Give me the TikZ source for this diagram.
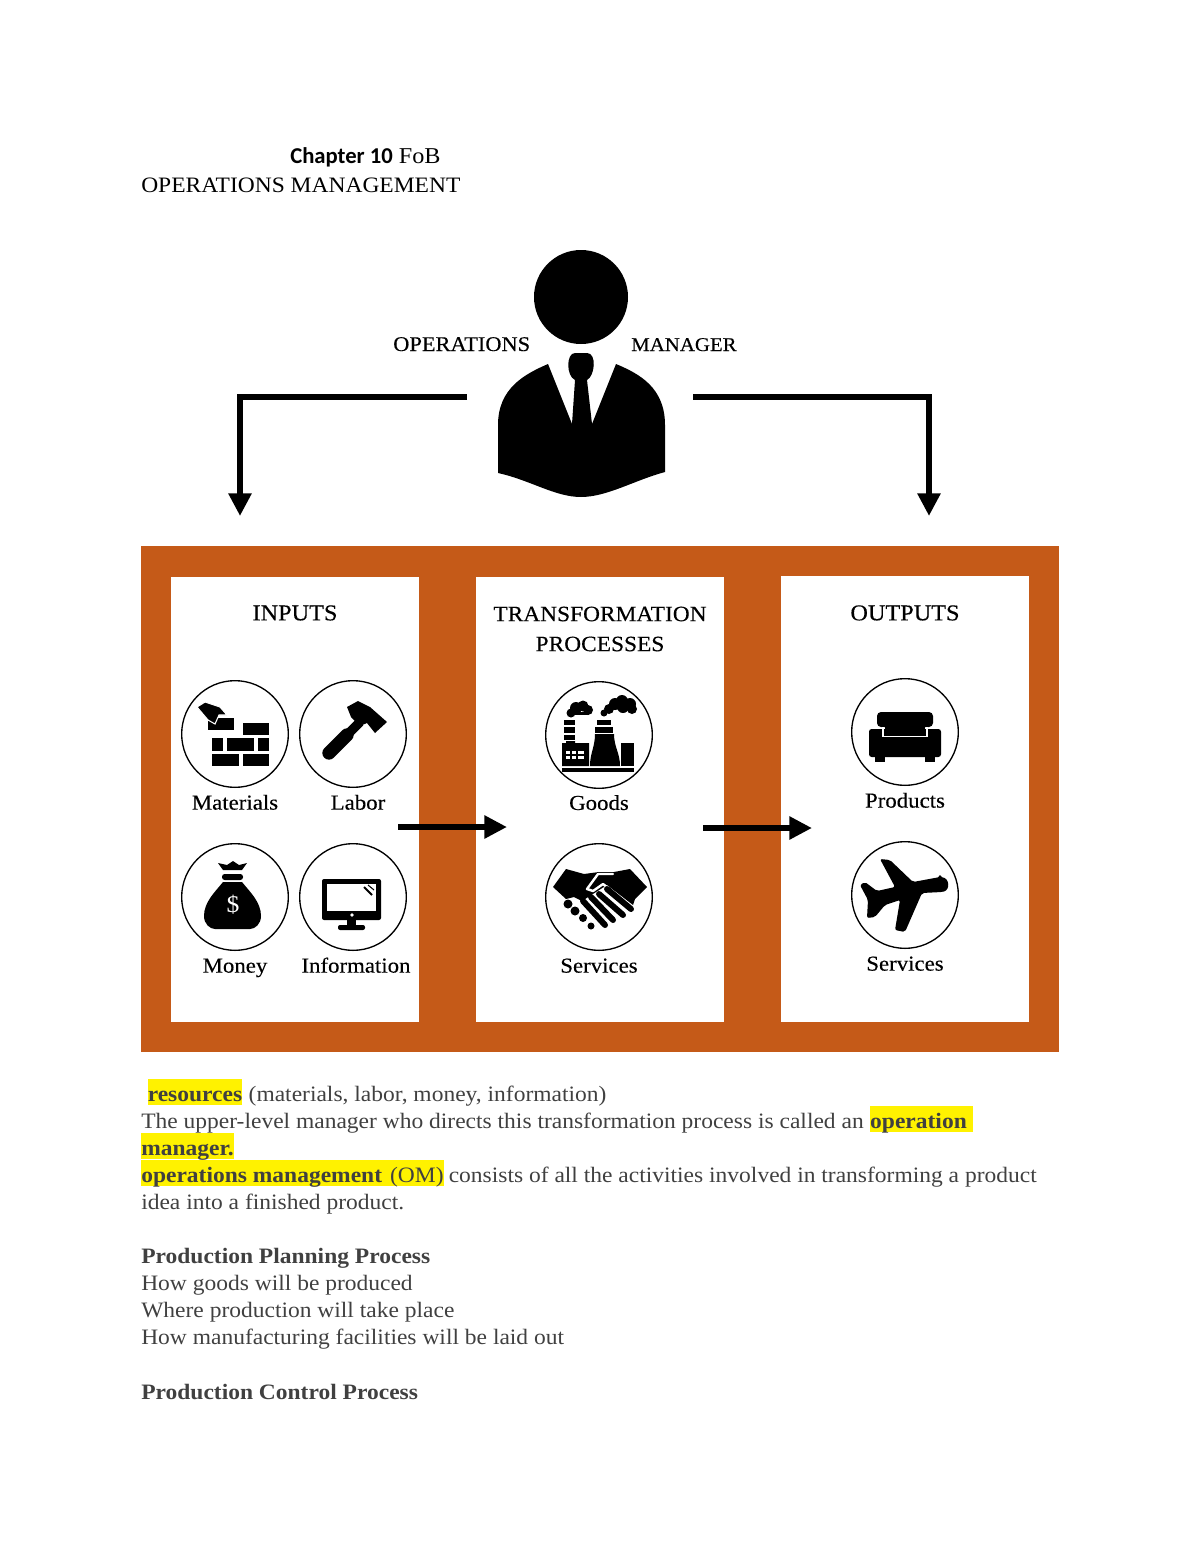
\documentclass[tikz,border=0pt]{standalone}
\usepackage{fontspec}
\setmainfont[FakeStretch=1.068]{Liberation Serif}
\newfontfamily\labelfont[FakeStretch=1.07,FakeBold=0.25]{Liberation Serif}
\newfontfamily\headfont{Carlito}
\usetikzlibrary{positioning}
\usetikzlibrary{arrows.meta}
\definecolor{rust}{HTML}{C55A18}
\definecolor{bodygray}{HTML}{404040}
\tikzset{>={Triangle[length=17pt,width=16.5pt]}}
\tikzset{flow/.style={->,line width=5pt}}
\tikzset{panel/.style={fill=white,draw=none}}
\tikzset{ring/.style={circle,draw,line width=1pt,minimum size=80pt,inner sep=0pt}}
\tikzset{lab/.style={font=\labelfont\fontsize{16pt}{16pt}\selectfont,inner sep=0pt,text height=11pt,text depth=3pt}}
\tikzset{pnltitle/.style={font=\labelfont\fontsize{17pt}{17pt}\selectfont}}
\tikzset{txt/.style={anchor=base west,inner sep=0pt,text=bodygray,font=\fontsize{16.5pt}{16.5pt}\selectfont}}
\tikzset{bld/.style={font=\bfseries\fontsize{16.5pt}{16.5pt}\selectfont}}
\tikzset{hl/.style={fill=yellow,text height=16.8pt,text depth=3.2pt,inner xsep=0pt}}
\begin{document}
\begin{tikzpicture}[x=0.75pt,y=-0.75pt]
\useasboundingbox (0,0) rectangle (1200,1553);

% heading
\node[anchor=base west,inner sep=0pt,font=\fontsize{17pt}{17pt}\selectfont] (chap) at (290,163) {{\headfont\bfseries Chapter 10} FoB};
\node[anchor=base west,inner sep=0pt,font=\fontsize{16.5pt}{16.5pt}\selectfont] (opm) at (141,192) {OPERATIONS MANAGEMENT};

% manager
\node[circle,fill=black,minimum size=70.5pt,inner sep=0pt] (head) at (581,297) {};
\fill (548,364) .. controls (525,374) and (498,388) .. (498,425) -- (498,473)
  .. controls (530,480) and (555,497) .. (581,497)
  .. controls (607,497) and (635,480) .. (665,472) -- (665,425)
  .. controls (665,388) and (640,374) .. (616,364) -- (592,424) -- (587,380)
  .. controls (595,376) and (597,353) .. (587,353) -- (575,353)
  .. controls (566,353) and (566,376) .. (575,380) -- (572,424) -- cycle;
\node[lab,anchor=base west,font=\labelfont\fontsize{15.7pt}{15.7pt}\selectfont] (opl) at (393,351) {OPERATIONS};
\node[lab,anchor=base west,font=\labelfont\fontsize{14.6pt}{15pt}\selectfont] (mgl) at (631,351) {MANAGER};

% frame
\fill[rust] (141,546) rectangle (1059,1052);
\fill[panel] (171,577) rectangle (419,1022);
\fill[panel] (476,577) rectangle (724,1022);
\fill[panel] (781,576) rectangle (1029,1022);

\node[lab,pnltitle] (inp) at (295,615) {INPUTS};
\node[align=center,inner sep=0pt,font=\labelfont\fontsize{16.4pt}{22.5pt}\selectfont] (trn) at (600,629) {TRANSFORMATION\\PROCESSES};
\node[lab,pnltitle] (out) at (905,615) {OUTPUTS};

\node[ring] (mat) at (235,734) {};
\node[ring] (hmr) at (353,734) {};
\node[ring] (mon) at (235,897) {};
\node[ring] (inf) at (353,897) {};
\node[ring] (gds) at (599,735) {};
\node[ring] (hnd) at (599,897) {};
\node[ring] (prd) at (905,732) {};
\node[ring] (pln) at (905,895) {};

\node[lab] (matl) [below = 5pt of mat] {Materials};
\node[lab] (hmrl) [below = 5pt of hmr, xshift=3.75pt] {Labor};
\node[lab] (monl) [below = 5pt of mon] {Money};
\node[lab] (infl) [below = 5pt of inf, xshift=2.25pt] {Information};
\node[lab] (gdsl) [below = 4.5pt of gds] {Goods};
\node[lab] (hndl) [below = 5pt of hnd] {Services};
\node[lab] (prdl) [below = 5pt of prd] {Products};
\node[lab] (plnl) [below = 5pt of pln] {Services};

% bricks
\begin{scope}[shift={(mat.center)}]
\fill (8,-11) rectangle (34,1);
\fill (-27,-16) rectangle (-1,-4);
\fill (-23,4) rectangle (-12,17);
\fill (-8,4) rectangle (19,17);
\fill (23,4) rectangle (34,17);
\fill (-23,20) rectangle (4,32);
\fill (8,20) rectangle (34,32);
\fill[draw=white,line width=0.8pt] (-38,-27) -- (-30,-32) -- (-15,-27) -- (-8,-19) -- (-16,-19) -- (-20,-10) -- (-27,-14) -- cycle;
\end{scope}

% hammer
\begin{scope}[shift={(hmr.center)}]
\draw[line width=10pt,line cap=round] (-24,19) -- (-6,1);
\draw[line width=7pt] (-4,-1) -- (7,-12);
\fill (-6,-27) -- (5,-33) -- (17,-27) -- (34,-12) -- (22,-1) -- (14,-11) -- (7,-8) -- (-2,-17) -- cycle;
\end{scope}

% money bag
\begin{scope}[shift={(mon.center)}]
\fill (-17,-34) -- (-8,-32) -- (-2,-36) -- (4,-32) -- (12,-34) -- (7,-27) -- (-12,-27) -- cycle;
\fill[rounded corners=2pt] (-13,-23) rectangle (8,-17);
\fill (-12,-15) -- (7,-15) .. controls (15,-5) and (26,5) .. (26,19)
  .. controls (26,27) and (20,32) .. (15,32) -- (-20,32)
  .. controls (-25,32) and (-31,27) .. (-31,19)
  .. controls (-31,5) and (-20,-5) .. (-12,-15) -- cycle;
\node[text=white,inner sep=0pt,font=\fontsize{18pt}{18pt}\selectfont] (dlr) at (-2,8) {\$};
\end{scope}

% monitor
\begin{scope}[shift={(inf.center)}]
\fill[rounded corners=1.5pt] (-31,-18) rectangle (28,23);
\fill[white] (-26,-13) rectangle (23,14);
\fill[white] (-1,18) circle (1.8);
\fill (-6,22) rectangle (3,28);
\fill[rounded corners=1.5pt] (-15,28) rectangle (12,33);
\draw[line width=1.5pt] (11,-10) -- (19,-2);
\draw[line width=0.8pt] (15,-12) -- (21,-7);
\end{scope}

% factory
\begin{scope}[shift={(gds.center)}]
\fill (-37,33) rectangle (35,37);
\fill (-37,8) -- (-33,8) -- (-33,6) -- (-24,6) -- (-24,8) -- (-10,8) -- (-10,31) -- (-37,31) -- cycle;
\fill (-35,-15) rectangle (-24,-10);
\fill (-35,-8) rectangle (-24,-2);
\fill (-35,0) rectangle (-24,5);
\fill (-2,-15) rectangle (12,-10);
\fill (-4,-8) rectangle (14,-2);
\fill (-4,-1) .. controls (-4,12) and (-9,18) .. (-9,31) -- (21,31) .. controls (21,18) and (15,12) .. (15,-1) -- cycle;
\fill (22,8) rectangle (35,31);
\fill (-28,-22) circle (4.5); \fill (-23,-27) circle (6); \fill (-16,-29) circle (5.5); \fill (-11,-25) circle (5);
\fill (-30,-23) rectangle (-10,-20);
\fill (5,-22) circle (3.5); \fill (10,-26) circle (5); \fill (16,-31) circle (6); \fill (23,-34) circle (6); \fill (31,-31) circle (6); \fill (33,-26) circle (5); \fill (24,-28) circle (6);
\fill[white] (-33,16) rectangle (-29,19);
\fill[white] (-27,16) rectangle (-23,19);
\fill[white] (-21,16) rectangle (-15,19);
\fill[white] (-33,21) rectangle (-29,24);
\fill[white] (-27,21) rectangle (-23,24);
\fill[white] (-21,21) rectangle (-15,24);
\end{scope}

% handshake
\begin{scope}[shift={(hnd.center)}]
\fill (-46,-10) -- (-33,-28) -- (-15,-23) -- (0,-25) -- (15,-25) -- (31,-28) -- (48,-10) -- (36,2) -- (34,8) -- (8,-12) -- (-17,4) -- (-25,0) -- (-33,2) -- cycle;
\draw[white,line width=1.8pt,line cap=round,line join=round] (14,-23) -- (-1,-23) -- (-12,-8) -- (-6,-6) -- (4,-13) -- (36,12);
\draw[line width=4.5pt,line cap=round] (-16,4) -- (6,28);
\draw[line width=4.5pt,line cap=round] (-8,0) -- (14,23);
\draw[line width=4.5pt,line cap=round] (0,-3) -- (24,18);
\draw[line width=4.5pt,line cap=round] (8,-8) -- (32,12);
\fill (-31,7) circle (4.5);
\fill (-24,14) circle (4.5);
\fill (-16,21) circle (4);
\fill (-8,29) circle (3.5);
\end{scope}

% sofa
\begin{scope}[shift={(prd.center)}]
\fill[rounded corners=3pt] (-28,-20) rectangle (28,-5);
\fill (-20,-6) rectangle (20,3);
\fill[rounded corners=2pt] (-36,-3) rectangle (36,25);
\fill (-30,25) rectangle (-20,30);
\fill (20,25) rectangle (30,30);
\draw[white,line width=1pt] (-22,-5) -- (-22,4.5) -- (22,4.5) -- (22,-5);
\end{scope}

% plane
\begin{scope}[shift={(pln.center)}]
\fill[rounded corners=1.5pt] (35,-18) -- (8,-13) -- (-15,-35) -- (-25,-36) -- (-10,-8) -- (-28,-4) -- (-40,-13) -- (-45,-10) -- (-37,5) -- (-38,23) -- (-30,22) -- (-20,10) -- (-5,5) -- (-10,35) -- (0,37) -- (17,-2) -- (37,-3) .. controls (45,-5) and (45,-17) .. (35,-18) -- cycle;
\end{scope}

% arrows
\coordinate (la) at (467,397);
\coordinate (lb) at (240,516);
\coordinate (ra) at (693,397);
\coordinate (rb) at (929,516);
\coordinate (ma) at (398,827);
\coordinate (mb) at (507,827);
\coordinate (na) at (703,828);
\coordinate (nb) at (812,828);
\draw[flow] (la) -| (lb);
\draw[flow] (ra) -| (rb);
\draw[flow] (ma) -- (mb);
\draw[flow] (na) -- (nb);

% text below
\node[txt,hl,bld] (res) at (147.5,1101) {resources};
\node[txt] (resb) [base right = 4.5pt of res] {(materials, labor, money, information)};
\node[txt] (upr) at (141,1128) {The upper-level manager who directs this transformation process is called an};
\node[txt,hl,bld] (opr) [base right = 4.5pt of upr] {operation\hspace*{5pt}};
\node[txt,hl,bld] (mgr) at (141,1155) {manager.};
\node[txt,hl,bld] (omg) at (141,1182) {operations management};
\node[txt,hl] (omk) [base right = -0.4pt of omg] {\hspace*{6pt}(OM)};
\node[txt] (omc) [base right = 3.5pt of omk] {consists of all the activities involved in transforming a product};
\node[txt] (idea) at (141,1209) {idea into a finished product.};
\node[txt,bld] (ppp) at (141,1263) {Production Planning Process};
\node[txt] (how) at (141,1290) {How goods will be produced};
\node[txt] (whr) at (141,1317) {Where production will take place};
\node[txt] (hmf) at (141,1344) {How manufacturing facilities will be laid out};
\node[txt,bld] (pcp) at (141,1399) {Production Control Process};
\end{tikzpicture}
\end{document}
